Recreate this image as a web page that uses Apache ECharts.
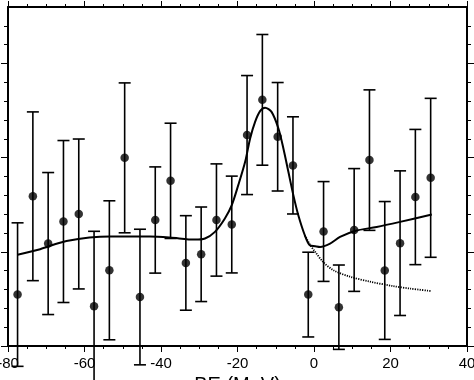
<!DOCTYPE html>
<html><head><meta charset="utf-8">
<script src="https://cdn.jsdelivr.net/npm/echarts@6/dist/echarts.min.js"></script>
<style>html,body{margin:0;padding:0;background:#fff}#c{width:474px;height:380px}</style>
</head><body><div id="c"></div>
<script>
// ---- data ----
const xTickValues = [-80, -60, -40, -20, 0, 20, 40];
const yMajorTicks = [0, 5, 10, 15];
const yMinorTicks = [1, 2, 3, 4, 6, 7, 8, 9, 11, 12, 13, 14, 16, 17];

const beValues = [-77.5, -73.5, -69.5, -65.5, -61.5, -57.5, -53.5, -49.5, -45.5, -41.5,
  -37.5, -33.5, -29.5, -25.5, -21.5, -17.5, -13.5, -9.5, -5.5, -1.5,
  2.5, 6.5, 10.5, 14.5, 18.5, 22.5, 26.5, 30.5];
const yieldValues = [2.73, 7.95, 5.44, 6.61, 7.01, 2.11, 4.02, 9.99, 2.60, 6.69,
  8.77, 4.41, 4.87, 6.69, 6.45, 11.20, 13.07, 11.11, 9.59, 2.73,
  6.08, 2.06, 6.16, 9.87, 4.01, 5.46, 7.91, 8.93];
const errValues = [3.81, 4.48, 3.77, 4.30, 3.98, 3.98, 3.69, 3.98, 3.60, 2.82,
  3.06, 2.51, 2.51, 2.98, 2.57, 3.16, 3.47, 2.88, 2.58, 2.25,
  2.65, 2.24, 3.26, 3.73, 3.66, 3.84, 3.59, 4.22];

const fitX = [-77.5, -71.6, -64.7, -53.3, -42.9, -37.7, -31.1, -28.5, -25.9, -23.3,
  -21.5, -19.8, -18.0, -16.7, -15.4, -14.1, -12.8, -11.1, -9.3, -8.0,
  -6.7, -5.4, -4.1, -2.4, -1.1, 0.3, 1.6, 4.2, 6.8, 10.7, 16.4, 22.5, 30.8];
const fitY = [4.85, 5.14, 5.58, 5.81, 5.81, 5.76, 5.65, 5.71, 6.06, 6.77,
  7.48, 8.54, 9.78, 11.02, 11.90, 12.47, 12.65, 12.43, 11.55, 10.49,
  9.25, 8.01, 6.94, 5.88, 5.35, 5.30, 5.26, 5.44, 5.79, 6.11, 6.32, 6.59, 6.98];

const altX = [-2.4, -1.1, 0.3, 2.4, 5.1, 9.4, 14.6, 20.7, 25.1, 30.5];
const altY = [5.88, 5.40, 5.00, 4.46, 4.02, 3.68, 3.42, 3.18, 3.05, 2.92];

// ---- chart ----
const FONT = '"Liberation Sans", Arial, Helvetica, sans-serif';
const black = '#000';
const frameLine = { color: black, width: 2 };

function xAx(pos, showLabels) {
  return {
    type: 'value', position: pos, min: xTickValues[0], max: xTickValues[xTickValues.length - 1],
    interval: xTickValues[1] - xTickValues[0],
    axisLine: { show: true, onZero: false, lineStyle: frameLine },
    axisTick: { show: true, inside: false, length: 6, lineStyle: { color: black, width: 1 } },
    minorTick: { show: true, splitNumber: 4, length: 3, lineStyle: { color: black, width: 1 } },
    axisLabel: { show: showLabels, color: black, fontSize: 15, fontFamily: FONT, margin: 10 },
    splitLine: { show: false }, minorSplitLine: { show: false },
    name: showLabels ? 'BE (MeV)' : '', nameLocation: 'middle', nameGap: 27,
    nameTextStyle: { color: black, fontSize: 20, fontFamily: FONT }
  };
}
function yAx(pos, ticks, len, showLine) {
  return {
    type: 'value', position: pos, min: 0, max: 18,
    axisLine: { show: showLine, onZero: false, lineStyle: frameLine },
    axisTick: { show: true, inside: false, length: len, customValues: ticks, lineStyle: { color: black, width: 1 } },
    axisLabel: { show: false }, splitLine: { show: false }
  };
}

const chart = echarts.init(document.getElementById('c'), null, { renderer: 'canvas' });
chart.setOption({
  animation: false,
  backgroundColor: '#fff',
  grid: { left: 8, top: 7, width: 459, height: 339, containLabel: false, outerBoundsMode: 'none' },
  xAxis: [xAx('bottom', true), xAx('top', false)],
  yAxis: [
    yAx('left', yMinorTicks, 4, true),
    yAx('left', yMajorTicks, 7, false),
    yAx('right', yMinorTicks, 4, true),
    yAx('right', yMajorTicks, 7, false)
  ],
  series: [
    {
      type: 'line', xAxisIndex: 0, yAxisIndex: 0, showSymbol: false, symbol: 'none',
      smooth: 0.3, data: altX.map((x, i) => [x, altY[i]]),
      lineStyle: { color: black, width: 1.8, type: [1.2, 1.2] }, z: 2
    },
    {
      type: 'line', xAxisIndex: 0, yAxisIndex: 0, showSymbol: false, symbol: 'none',
      smooth: 0.3, data: fitX.map((x, i) => [x, fitY[i]]),
      lineStyle: { color: black, width: 2 }, z: 3
    },
    {
      type: 'custom', xAxisIndex: 0, yAxisIndex: 0, clip: false, z: 4,
      data: beValues.map((x, i) => [x, yieldValues[i] - errValues[i], yieldValues[i] + errValues[i]]),
      encode: { x: 0, y: [1, 2] },
      renderItem: function (params, api) {
        const x = api.value(0);
        const lo = api.coord([x, api.value(1)]);
        const hi = api.coord([x, api.value(2)]);
        const hw = 6;
        const st = { stroke: black, lineWidth: 1.6 };
        return {
          type: 'group', children: [
            { type: 'line', shape: { x1: lo[0], y1: lo[1], x2: hi[0], y2: hi[1] }, style: st },
            { type: 'line', shape: { x1: hi[0] - hw, y1: hi[1], x2: hi[0] + hw, y2: hi[1] }, style: st },
            { type: 'line', shape: { x1: lo[0] - hw, y1: lo[1], x2: lo[0] + hw, y2: lo[1] }, style: st }
          ]
        };
      }
    },
    {
      type: 'scatter', xAxisIndex: 0, yAxisIndex: 0, symbol: 'circle', symbolSize: 8.5,
      itemStyle: { color: black }, z: 5,
      data: beValues.map((x, i) => [x, yieldValues[i]])
    }
  ]
});
</script></body></html>
